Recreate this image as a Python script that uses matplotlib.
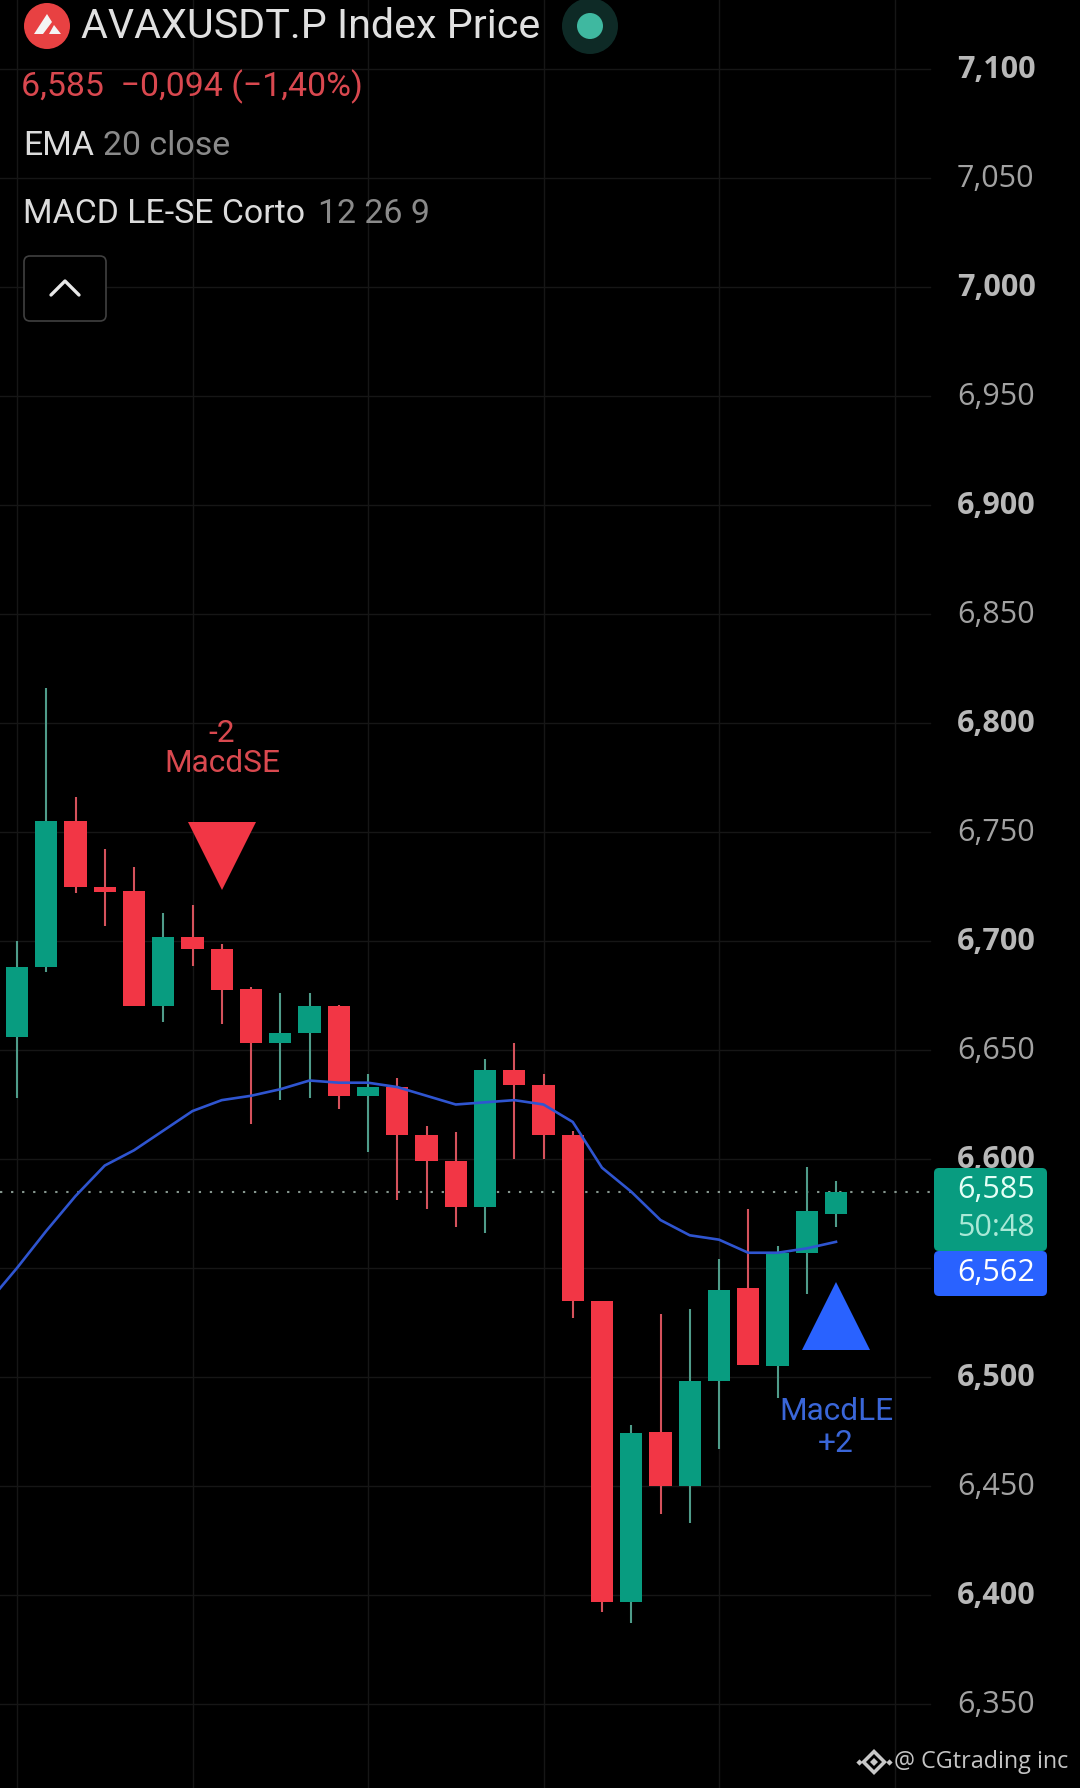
import matplotlib
matplotlib.use("Agg")
import matplotlib.pyplot as plt
from matplotlib.patches import Circle, FancyBboxPatch, Polygon

# candele
opens = [6.656, 6.688, 6.755, 6.725, 6.723, 6.670, 6.702, 6.6965, 6.678, 6.653,
         6.658, 6.670, 6.629, 6.633, 6.611, 6.599, 6.578, 6.641, 6.634, 6.611,
         6.535, 6.397, 6.475, 6.450, 6.498, 6.541, 6.505, 6.557, 6.575]
closes = [6.688, 6.755, 6.725, 6.7225, 6.670, 6.702, 6.6965, 6.6775, 6.653, 6.658,
          6.670, 6.629, 6.633, 6.611, 6.599, 6.578, 6.641, 6.634, 6.611, 6.535,
          6.397, 6.4745, 6.450, 6.498, 6.540, 6.5055, 6.557, 6.576, 6.585]
highs = [6.700, 6.816, 6.766, 6.742, 6.734, 6.713, 6.7165, 6.6985, 6.679, 6.676,
         6.676, 6.6705, 6.639, 6.637, 6.615, 6.6125, 6.646, 6.653, 6.639, 6.613,
         6.535, 6.478, 6.529, 6.531, 6.554, 6.577, 6.560, 6.5965, 6.590]
lows = [6.628, 6.686, 6.722, 6.707, 6.670, 6.663, 6.6885, 6.662, 6.616, 6.627,
        6.628, 6.623, 6.603, 6.581, 6.577, 6.569, 6.566, 6.600, 6.600, 6.527,
        6.392, 6.387, 6.437, 6.433, 6.467, 6.5055, 6.4905, 6.538, 6.569]

# EMA 20, il primo punto esce a sinistra dal grafico
ema_x = list(range(-1, 29))
ema = [6.534, 6.550, 6.567, 6.583, 6.597, 6.604, 6.613, 6.622, 6.627, 6.629,
       6.632, 6.636, 6.635, 6.635, 6.633, 6.629, 6.625, 6.626, 6.627, 6.625,
       6.617, 6.596, 6.585, 6.572, 6.565, 6.563, 6.557, 6.557, 6.559, 6.562]

tick_values = [7.10, 7.05, 7.00, 6.95, 6.90, 6.85, 6.80, 6.75, 6.70, 6.65,
               6.60, 6.50, 6.45, 6.40, 6.35]
tick_labels = ["7,100", "7,050", "7,000", "6,950", "6,900", "6,850", "6,800", "6,750",
               "6,700", "6,650", "6,600", "6,500", "6,450", "6,400", "6,350"]
tick_bold = [True, False, True, False, True, False, True, False,
             True, False, True, True, False, True, False]
grid_y = [7.10, 7.05, 7.00, 6.95, 6.90, 6.85, 6.80, 6.75, 6.70, 6.65, 6.60, 6.55,
          6.50, 6.45, 6.40, 6.35]
grid_x = [0, 6, 12, 18, 24, 30]

last_price = 6.585
short_signal = (7, 6.739)
long_signal = (28, 6.528)

RED = "#f23645"
GREEN = "#089c80"
BLUE = "#2962ff"
W, H = 1080, 1788

fig = plt.figure(figsize=(W / 100, H / 100), dpi=100, facecolor="black")

# asse dei prezzi: 29.25 px per candela, 2180 px per unita di prezzo
ax = fig.add_axes([0, 0, 1, 1], facecolor="black")
ax.set_xlim(-17 / 29.25, (W - 17) / 29.25)
ax.set_ylim(6.6 - (H - 1159) / 2180, 6.6 + 1159 / 2180)
ax.axis("off")

for v in grid_y:
    ax.axhline(v, xmax=930 / W, color="#161616", lw=1.0, zorder=1)
for x in grid_x:
    ax.axvline(x, color="#161616", lw=1.0, zorder=1)

ax.axhline(last_price, xmax=930 / W, color="#87978f", lw=1.5, dashes=(1.1, 4.2), zorder=2)

for i in range(len(opens)):
    up = closes[i] >= opens[i]
    body_color = GREEN if up else RED
    wick_color = "#4f9c8a" if up else "#d5525c"
    ax.vlines(i, lows[i], highs[i], color=wick_color, lw=1.5, zorder=3)
    ax.bar(i, abs(closes[i] - opens[i]), bottom=min(opens[i], closes[i]), width=0.76,
           color=body_color, zorder=4, linewidth=0)

ax.plot(ema_x, ema, color="#2f55d0", lw=1.9, zorder=5)

ax.plot(short_signal[0], short_signal[1], marker="v", ms=49, color=RED, mew=0, zorder=6)
ax.plot(long_signal[0], long_signal[1], marker="^", ms=49, color=BLUE, mew=0, zorder=6)

for v, label, bold in zip(tick_values, tick_labels, tick_bold):
    ax.text(957 / W, v - 0.0004, label, transform=ax.get_yaxis_transform(), family="Open Sans",
            fontsize=22, va="center", ha="left",
            color="#b8b8b8" if bold else "#a2a2a2", fontweight="bold" if bold else "normal")

# secondo asse in pixel per intestazione e riquadri
ui = fig.add_axes([0, 0, 1, 1], facecolor="none")
ui.set_xlim(0, W)
ui.set_ylim(H, 0)
ui.axis("off")

ui.add_patch(Circle((47, 26), 23, color="#e84142", lw=0))
ui.add_patch(Polygon([(47, 14), (52, 22), (43, 34), (34, 34)], color="#f4f4f4", lw=0))
ui.add_patch(Polygon([(54, 25), (61, 34), (49, 34)], color="#f4f4f4", lw=0))
ui.add_patch(Circle((590, 26), 28, color="#0e2a26", lw=0))
ui.add_patch(Circle((590, 26), 13, color="#3fb8a0", lw=0))

ui.text(81, 38, "AVAXUSDT.P Index Price", family="Roboto", fontsize=29.7, color="#e0e0e0", va="baseline")
ui.text(21, 96, "6,585  \u22120,094 (\u22121,40%)", family="Roboto", fontsize=24.4, color="#d9484f", va="baseline")
ui.text(23, 155, "EMA", family="Roboto", fontsize=24.4, color="#dcdcdc", va="baseline")
ui.text(103, 155, "20 close", family="Roboto", fontsize=24.4, color="#8a8a8a", va="baseline")
ui.text(23, 223, "MACD LE-SE Corto", family="Roboto", fontsize=24.4, color="#dcdcdc", va="baseline")
ui.text(318, 223, "12 26 9", family="Roboto", fontsize=24.4, color="#8a8a8a", va="baseline")

ui.add_patch(FancyBboxPatch((28, 260), 74, 57, boxstyle="round,pad=4,rounding_size=6",
                            fc="black", ec="#404040", lw=1.2))
ui.plot([51, 65, 79], [295, 281, 295], color="#e8e8e8", lw=2.4, solid_capstyle="round", solid_joinstyle="round")

ui.text(222, 733, "-2", family="Roboto", fontsize=22.8, color="#d9494f", ha="center", va="center")
ui.text(222, 763, "MacdSE", family="Roboto", fontsize=22.8, color="#d9494f", ha="center", va="center")
ui.text(836, 1411, "MacdLE", family="Roboto", fontsize=22.8, color="#3a66d8", ha="center", va="center")
ui.text(836, 1443, "+2", family="Roboto", fontsize=22.8, color="#3a66d8", ha="center", va="center")

ui.add_patch(FancyBboxPatch((938, 1172), 105, 75, boxstyle="round,pad=4,rounding_size=5", fc=GREEN, ec="none"))
ui.add_patch(FancyBboxPatch((938, 1255), 105, 37, boxstyle="round,pad=4,rounding_size=5", fc=BLUE, ec="none"))
ui.text(957, 1190, "6,585", family="Open Sans", fontsize=22, color="#e4fff6", va="center")
ui.text(957, 1228, "50:48", family="Open Sans", fontsize=22, color="#a9e8d6", va="center")
ui.text(957, 1273, "6,562", family="Open Sans", fontsize=22, color="white", va="center")

# filigrana
logo_x = [874, 874, 874, 859, 889]
logo_y = [1762, 1762, 1762, 1762, 1762]
logo_s = [13, 8, 4.5, 3.2, 3.2]
logo_c = ["#c8c8c8", "black", "#c8c8c8", "#c8c8c8", "#c8c8c8"]
for x, y, s, c in zip(logo_x, logo_y, logo_s, logo_c):
    ui.plot(x, y, marker="D", ms=s, color=c, mew=0)
ui.text(894, 1762, "@ CGtrading inc", family="Open Sans", fontsize=16.8, color="#c4c4c4", va="center")

fig.savefig("out.png", dpi=100, facecolor="black")
